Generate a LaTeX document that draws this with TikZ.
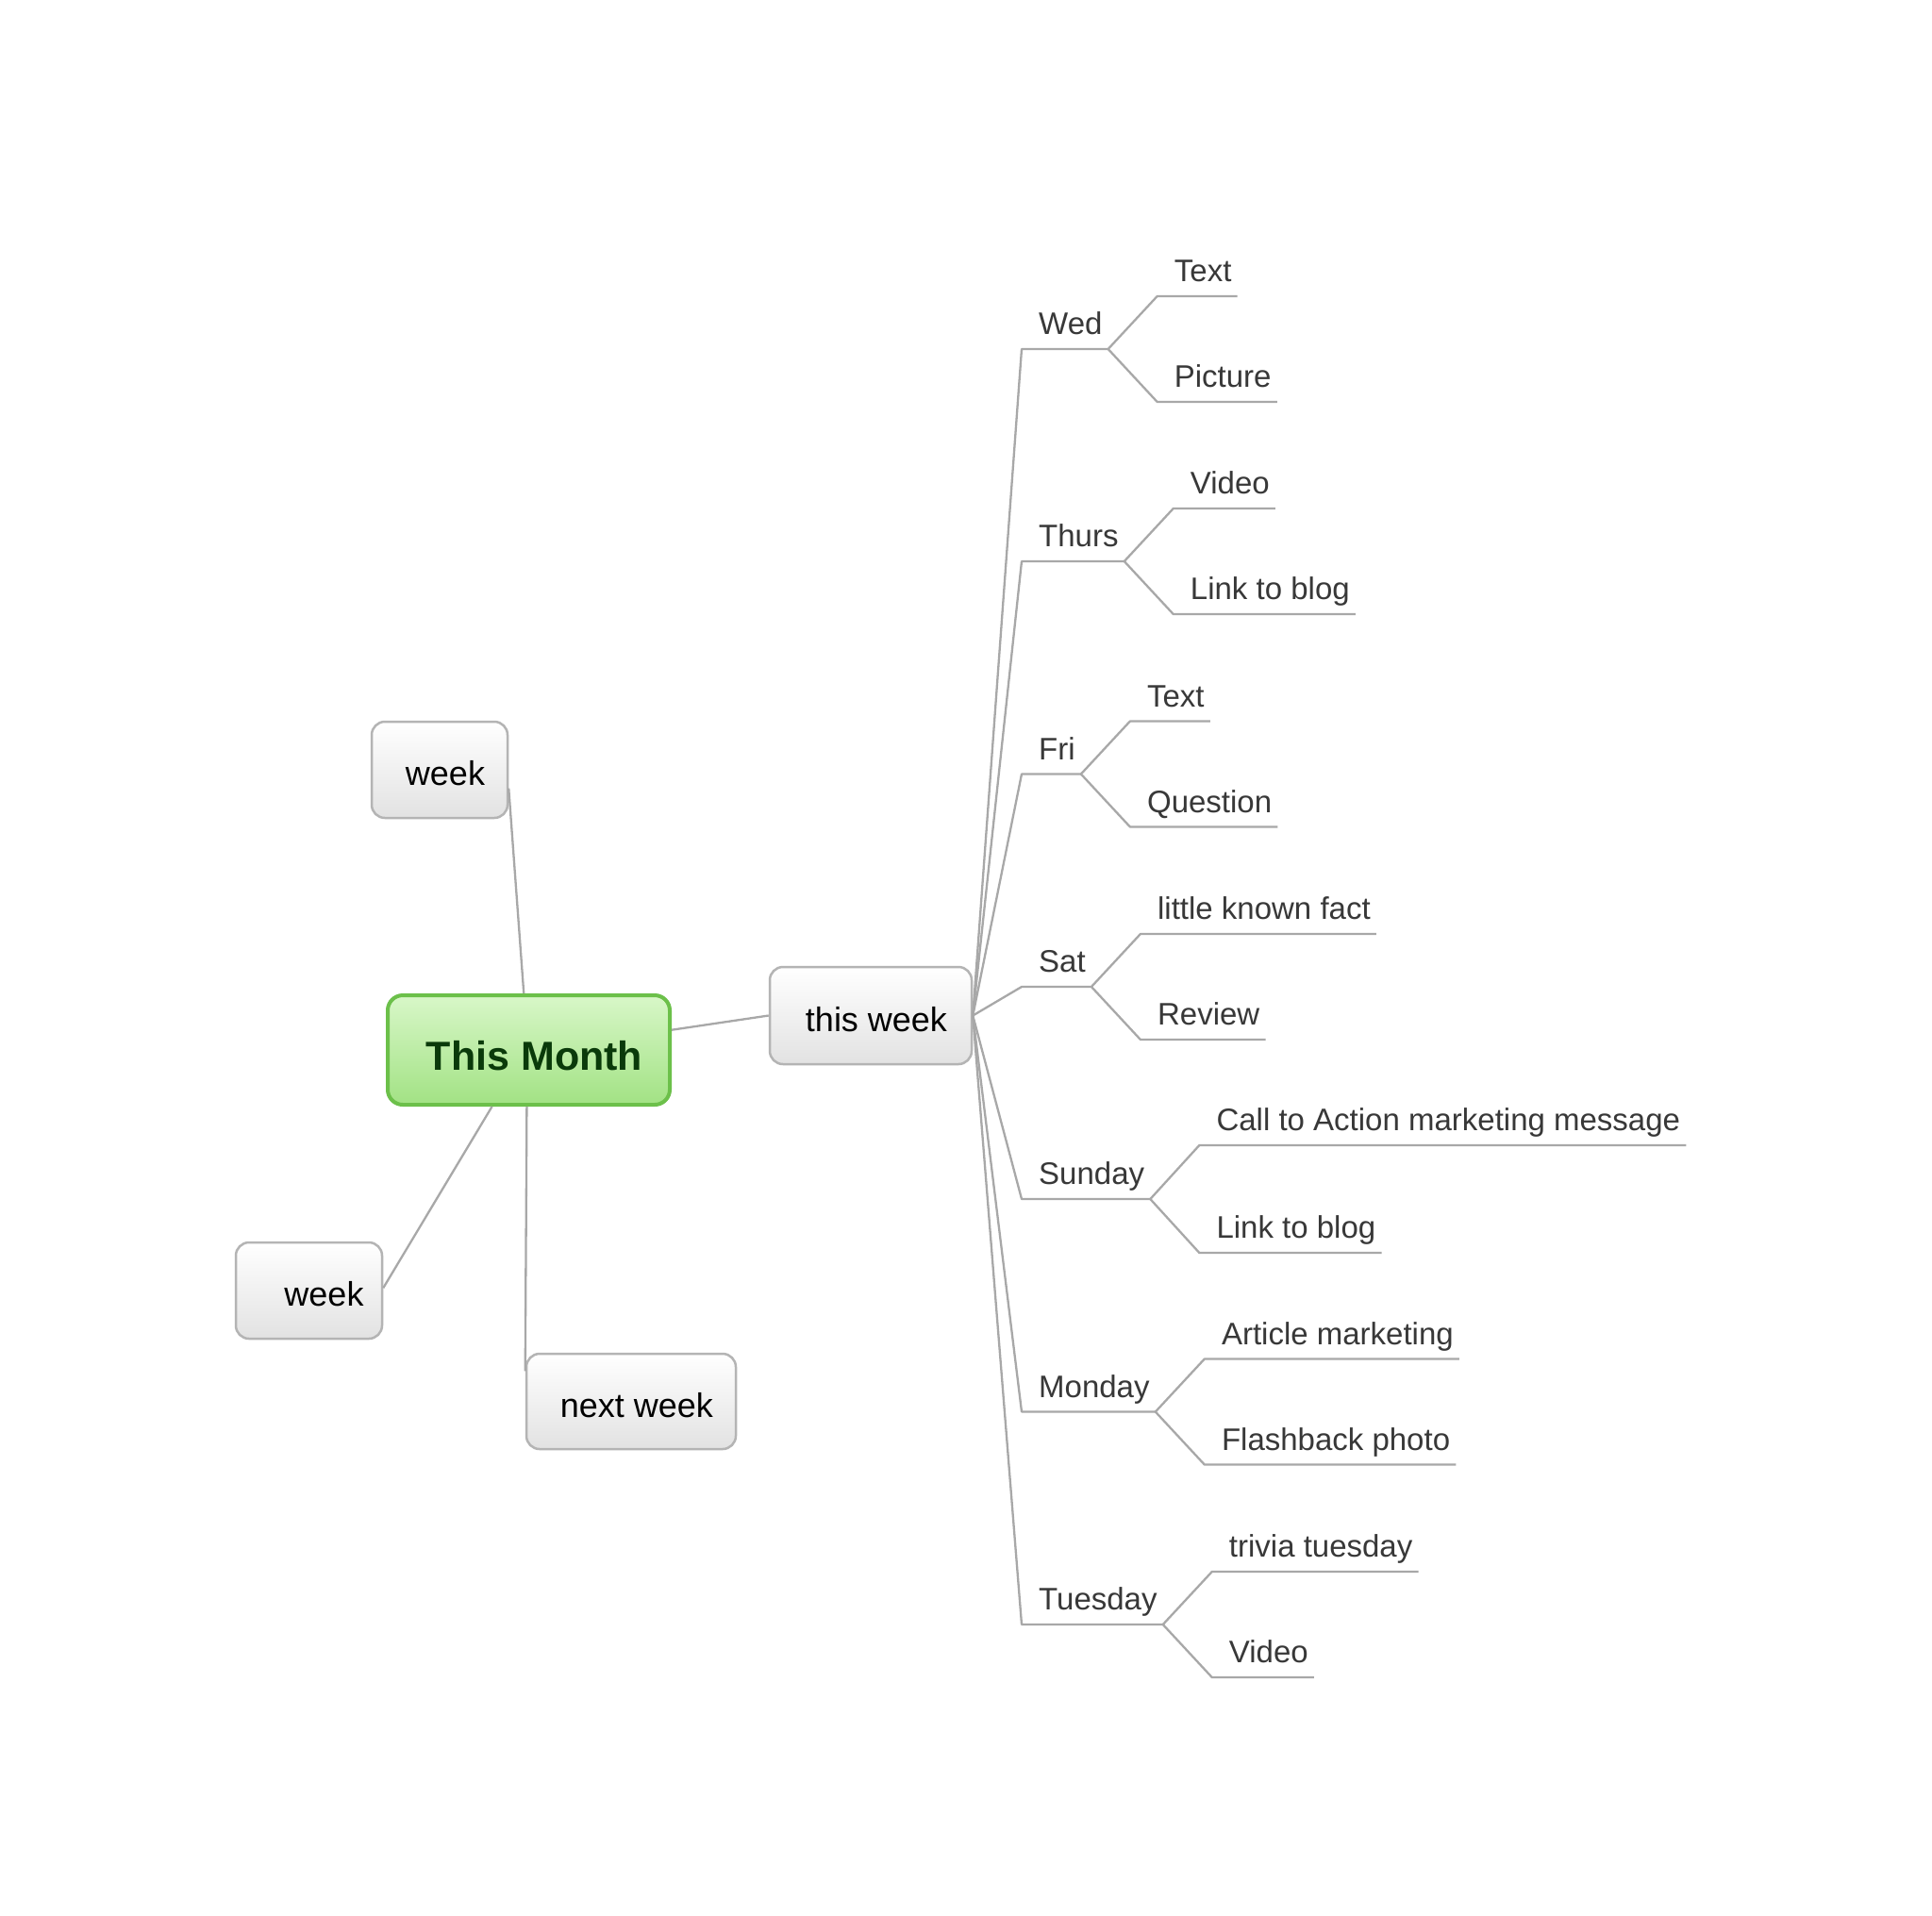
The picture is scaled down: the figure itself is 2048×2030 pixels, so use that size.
\documentclass[tikz,border=0pt]{standalone}
\usepackage{fontspec}
\setmainfont{Liberation Sans}
\usetikzlibrary{calc}
\definecolor{linegray}{HTML}{A8A8A8}
\definecolor{labelgray}{HTML}{383838}
\definecolor{boxgray}{HTML}{B4B4B4}
\definecolor{boxbottom}{HTML}{E2E2E2}
\definecolor{greenborder}{HTML}{6CC04A}
\definecolor{greentop}{HTML}{D8F7C8}
\definecolor{greenbottom}{HTML}{A2E284}
\definecolor{greentext}{HTML}{0A3A0A}
\begin{document}
\begin{tikzpicture}[x=1pt,y=-1pt,
  conn/.style={draw=linegray, line width=2.3pt, line join=round},
  lbl/.style={anchor=south west, inner xsep=6pt, inner ysep=0pt, text height=25pt, text depth=15pt,
    font=\fontsize{33}{33}\selectfont, text=labelgray, execute at begin node=\hspace*{12pt}},
  box/.style={draw=boxgray, line width=2.5pt, rounded corners=14pt, top color=white, bottom color=boxbottom,
    font=\fontsize{36}{36}\selectfont, text=black, text height=33pt, text depth=0pt, inner sep=0pt,
    execute at begin node=\hspace*{12pt}},
  mainbox/.style={draw=greenborder, line width=4pt, rounded corners=16pt, top color=greentop, bottom color=greenbottom,
    font=\fontsize{43}{43}\selectfont\bfseries, text=greentext, text height=43pt, text depth=0pt, inner sep=0pt,
    execute at begin node=\hspace*{12pt}}
]
\useasboundingbox (0,0) rectangle (2048,2030);
\fill[white] (0,0) rectangle (2048,2030);

% boxes
\node[box, minimum width=214pt, minimum height=103pt] (tw) at (923,1076.5) {this week};
\node[mainbox, minimum width=299pt, minimum height=116pt] (tm) at (560.5,1113) {This Month};
\node[box, minimum width=144pt, minimum height=102pt] (wk1) at (466,816) {week};
\node[box, minimum width=155pt, minimum height=102pt, execute at begin node=\hspace*{20pt}] (wk2) at (327.5,1368) {week};
\node[box, minimum width=222pt, minimum height=101pt] (nw) at (669,1485.5) {next week};

\draw[conn] (tm.8) -- (tw.west);
\draw[conn] (wk1.-15) -- (tm.95);
\draw[conn] (tm.237) -- (wk2.2);
\draw[conn] (tm.268) -- (nw.164);

% days
\node[lbl] (wed) at (1083,370) {Wed};
\node[lbl] (thu) at (1083,595) {Thurs};
\node[lbl] (fri) at (1083,820.5) {Fri};
\node[lbl] (sat) at (1083,1046) {Sat};
\node[lbl] (sun) at (1083,1271) {Sunday};
\node[lbl] (mon) at (1083,1496.5) {Monday};
\node[lbl] (tue) at (1083,1722) {Tuesday};

% leaves
\node[lbl] (wedA) at ($(wed.south east)+(52,-56)$) {Text};
\node[lbl] (wedB) at ($(wed.south east)+(52,56)$) {Picture};
\node[lbl] (thuA) at ($(thu.south east)+(52,-56)$) {Video};
\node[lbl] (thuB) at ($(thu.south east)+(52,56)$) {Link to blog};
\node[lbl] (friA) at ($(fri.south east)+(52,-56)$) {Text};
\node[lbl] (friB) at ($(fri.south east)+(52,56)$) {Question};
\node[lbl] (satA) at ($(sat.south east)+(52,-56)$) {little known fact};
\node[lbl] (satB) at ($(sat.south east)+(52,56)$) {Review};
\node[lbl] (sunA) at ($(sun.south east)+(52,-57)$) {Call to Action marketing message};
\node[lbl] (sunB) at ($(sun.south east)+(52,57)$) {Link to blog};
\node[lbl] (monA) at ($(mon.south east)+(52,-56)$) {Article marketing};
\node[lbl] (monB) at ($(mon.south east)+(52,56)$) {Flashback photo};
\node[lbl] (tueA) at ($(tue.south east)+(52,-56)$) {trivia tuesday};
\node[lbl] (tueB) at ($(tue.south east)+(52,56)$) {Video};

% trunk connectors
\foreach \dn in {wed,thu,fri,sat,sun,mon,tue}{
  \draw[conn] (tw.east) -- (\dn.south west) -- (\dn.south east);
  \draw[conn] (\dn.south east) -- (\dn A.south west) -- (\dn A.south east);
  \draw[conn] (\dn.south east) -- (\dn B.south west) -- (\dn B.south east);
}
\end{tikzpicture}
\end{document}
